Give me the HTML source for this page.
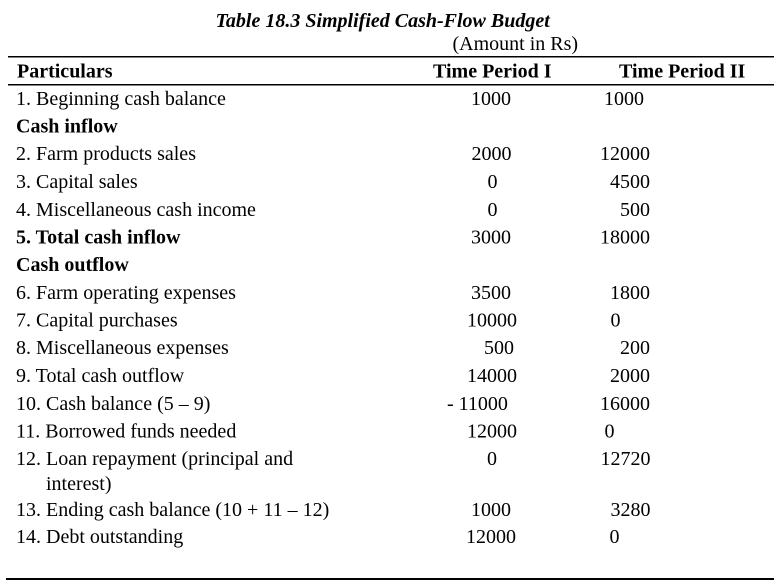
<!DOCTYPE html>
<html>
<head>
<meta charset="utf-8">
<style>
  html, body { margin: 0; padding: 0; background: #ffffff; }
  body { width: 774px; height: 583px; overflow: hidden; }
  svg { display: block; }
  text { font-family: "Liberation Serif", "Times New Roman", serif; font-size: 20px; fill: #000; }
  .b { font-weight: bold; }
  .bi { font-weight: bold; font-style: italic; }
</style>
</head>
<body>
<svg width="774" height="583" viewBox="0 0 774 583" xmlns="http://www.w3.org/2000/svg" shape-rendering="crispEdges">
  <rect x="0" y="0" width="774" height="583" fill="#ffffff"/>

  <!-- Title -->
  <text class="bi" x="215.5" y="27">Table 18.3 Simplified Cash-Flow Budget</text>
  <text x="452.5" y="50">(Amount in Rs)</text>

  <!-- Rules -->
  <rect x="8" y="56" width="766" height="1.5" fill="#000"/>
  <rect x="8" y="84" width="766" height="1.5" fill="#000"/>
  <rect x="6" y="578" width="768" height="2" fill="#000"/>

  <!-- Header -->
  <text class="b" x="17" y="77.5">Particulars</text>
  <text class="b" x="433" y="77.5">Time Period I</text>
  <text class="b" x="619" y="77.5">Time Period II</text>

  <!-- Labels -->
  <text x="16" y="105">1. Beginning cash balance</text>
  <text class="b" x="16" y="132.5">Cash inflow</text>
  <text x="16" y="160">2. Farm products sales</text>
  <text x="16" y="188">3. Capital sales</text>
  <text x="16" y="216">4. Miscellaneous cash income</text>
  <text class="b" x="16" y="243.5">5. Total cash inflow</text>
  <text class="b" x="16" y="271">Cash outflow</text>
  <text x="16" y="299">6. Farm operating expenses</text>
  <text x="16" y="326.5">7. Capital purchases</text>
  <text x="16" y="354">8. Miscellaneous expenses</text>
  <text x="16" y="382">9. Total cash outflow</text>
  <text x="16" y="410">10. Cash balance (5 – 9)</text>
  <text x="16" y="437.5">11. Borrowed funds needed</text>
  <text x="16" y="465">12. Loan repayment (principal and</text>
  <text x="46" y="490">interest)</text>
  <text x="16" y="516">13. Ending cash balance (10 + 11 – 12)</text>
  <text x="16" y="543">14. Debt outstanding</text>

  <!-- Time Period I values -->
  <text x="471" y="105">1000</text>
  <text x="471.5" y="160">2000</text>
  <text x="487.5" y="188">0</text>
  <text x="487.5" y="216">0</text>
  <text x="471" y="243.5">3000</text>
  <text x="471" y="299">3500</text>
  <text x="467" y="326.5">10000</text>
  <text x="484" y="354">500</text>
  <text x="467" y="382">14000</text>
  <text x="447" y="410">- 11000</text>
  <text x="467" y="437.5">12000</text>
  <text x="487" y="465">0</text>
  <text x="471" y="516">1000</text>
  <text x="466" y="543">12000</text>

  <!-- Time Period II values -->
  <text x="604" y="105">1000</text>
  <text x="650" y="160" text-anchor="end">12000</text>
  <text x="650" y="188" text-anchor="end">4500</text>
  <text x="650" y="216" text-anchor="end">500</text>
  <text x="650" y="243.5" text-anchor="end">18000</text>
  <text x="650" y="299" text-anchor="end">1800</text>
  <text x="610.5" y="326.5">0</text>
  <text x="650" y="354" text-anchor="end">200</text>
  <text x="650" y="382" text-anchor="end">2000</text>
  <text x="650" y="410" text-anchor="end">16000</text>
  <text x="604.5" y="437.5">0</text>
  <text x="650.5" y="465" text-anchor="end">12720</text>
  <text x="650.5" y="516" text-anchor="end">3280</text>
  <text x="609.5" y="543">0</text>
</svg>
</body>
</html>
